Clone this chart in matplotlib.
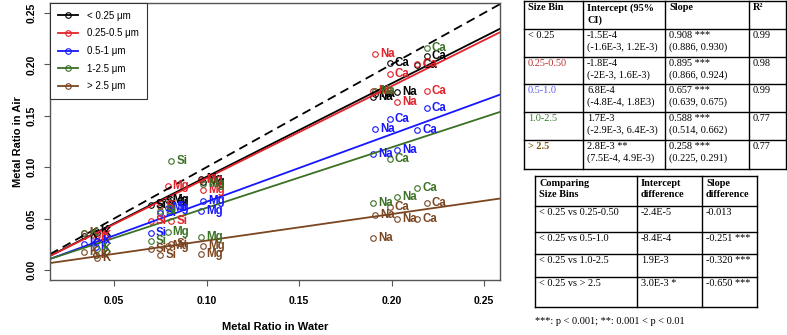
import matplotlib
matplotlib.use("Agg")
import matplotlib.pyplot as plt
from matplotlib.lines import Line2D
import numpy as np

plt.rcParams["font.family"] = ["Liberation Sans", "DejaVu Sans"]

# metal ratio in water (shared by all size bins), 3 samples per element
elements = ["K", "Si", "Mg", "Na", "Ca"]
water = {
    "K": [0.034, 0.040, 0.041],
    "Si": [0.070, 0.075, 0.081],
    "Mg": [0.079, 0.097, 0.098],
    "Na": [0.190, 0.191, 0.203],
    "Ca": [0.199, 0.214, 0.219],
}

# metal ratio in air per size bin
air_lt025 = {
    "K": [0.033, 0.038, 0.036],
    "Si": [0.063, 0.066, 0.065],
    "Mg": [0.068, 0.089, 0.086],
    "Na": [0.168, 0.171, 0.173],
    "Ca": [0.201, 0.199, 0.208],
}
air_025_05 = {
    "K": [0.036, 0.031, 0.033],
    "Si": [0.048, 0.062, 0.048],
    "Mg": [0.082, 0.088, 0.078],
    "Na": [0.174, 0.210, 0.163],
    "Ca": [0.191, 0.200, 0.174],
}
air_05_1 = {
    "K": [0.025, 0.022, 0.028],
    "Si": [0.036, 0.055, 0.061],
    "Mg": [0.060, 0.057, 0.067],
    "Na": [0.113, 0.137, 0.117],
    "Ca": [0.147, 0.136, 0.158],
}
air_1_25 = {
    "K": [0.036, 0.015, 0.020],
    "Si": [0.028, 0.057, 0.106],
    "Mg": [0.037, 0.032, 0.084],
    "Na": [0.065, 0.174, 0.071],
    "Ca": [0.108, 0.080, 0.216],
}
air_gt25 = {
    "K": [0.018, 0.0145, 0.012],
    "Si": [0.020, 0.015, 0.025],
    "Mg": [0.023, 0.016, 0.023],
    "Na": [0.031, 0.054, 0.050],
    "Ca": [0.061, 0.050, 0.065],
}

bin_labels = ["< 0.25 \u03bcm", "0.25-0.5 \u03bcm", "0.5-1 \u03bcm", "1-2.5 \u03bcm", "> 2.5 \u03bcm"]
bin_air = [air_lt025, air_025_05, air_05_1, air_1_25, air_gt25]
intercepts = [-1.5e-4, -1.8e-4, 6.8e-4, 1.7e-3, 2.8e-3]
slopes = [0.908, 0.895, 0.657, 0.588, 0.258]
colors = ["black", "#e3222a", "#1616ff", "#3b7125", "#7a4520"]

# regression table
t1_header = ["Size Bin", "Intercept (95%\nCI)", "Slope", "R\u00b2"]
t1_bins = ["< 0.25", "0.25-0.50", "0.5-1.0", "1.0-2.5", "> 2.5"]
t1_bin_colors = ["black", "#b83030", "#5a5aff", "#3a7a2a", "#7a5a10"]
t1_intercepts = ["-1.5E-4\n(-1.6E-3, 1.2E-3)", "-1.8E-4\n(-2E-3, 1.6E-3)",
                 "6.8E-4\n(-4.8E-4, 1.8E3)", "1.7E-3\n(-2.9E-3, 6.4E-3)",
                 "2.8E-3 **\n(7.5E-4, 4.9E-3)"]
t1_slopes = ["0.908 ***\n(0.886, 0.930)", "0.895 ***\n(0.866, 0.924)",
             "0.657 ***\n(0.639, 0.675)", "0.588 ***\n(0.514, 0.662)",
             "0.258 ***\n(0.225, 0.291)"]
t1_r2 = ["0.99", "0.98", "0.99", "0.77", "0.77"]

# comparison table
t2_header = ["Comparing\nSize Bins", "Intercept\ndifference", "Slope\ndifference"]
t2_pairs = ["< 0.25 vs 0.25-0.50", "< 0.25 vs 0.5-1.0", "< 0.25 vs 1.0-2.5", "< 0.25 vs > 2.5"]
t2_int_diff = ["-2.4E-5", "-8.4E-4", "1.9E-3", "3.0E-3 *"]
t2_slope_diff = ["-0.013", "-0.251 ***", "-0.320 ***", "-0.650 ***"]
footnote = "***: p < 0.001; **: 0.001 < p < 0.01"

fig = plt.figure(figsize=(7.87, 3.35), dpi=100)

# tables live on a pixel-coordinate overlay
tab = fig.add_axes([0, 0, 1, 1], zorder=-1)
tab.set_xlim(0, 787)
tab.set_ylim(335, 0)
tab.axis("off")

ax = fig.add_axes([50 / 787, 55 / 335, 450 / 787, 277 / 335])
xlim = (0.0154, 0.2586)
ax.set_xlim(*xlim)
ax.set_ylim(-0.0097, 0.2597)

for air, col in zip(bin_air, colors):
    for el in elements:
        ax.plot(water[el], air[el], "o", mfc="none", mec=col, ms=4, mew=0.8)
        for xv, yv in zip(water[el], air[el]):
            ax.annotate(el, (xv, yv), xytext=(5, 0), textcoords="offset pixels",
                        va="center", ha="left", color=col, fontsize=8.3,
                        fontweight="bold")

xs = np.array(xlim)
ax.plot(xs, xs, "--", color="black", lw=1.3, dashes=(5, 3))
for a, b, col in zip(intercepts, slopes, colors):
    ax.plot(xs, a + b * xs, color=col, lw=1.3)

ax.set_xticks([0.05, 0.10, 0.15, 0.20, 0.25])
ax.set_yticks([0.00, 0.05, 0.10, 0.15, 0.20, 0.25])
ax.set_xticklabels(["0.05", "0.10", "0.15", "0.20", "0.25"], fontweight="bold")
ax.set_yticklabels(["0.00", "0.05", "0.10", "0.15", "0.20", "0.25"],
                   fontweight="bold", rotation=90, va="center")
ax.tick_params(direction="out", length=4.3, width=0.8, color="#555555",
               labelsize=7.5)
ax.tick_params(axis="x", pad=7)
ax.tick_params(axis="y", pad=5)
for sp in ax.spines.values():
    sp.set_color("#555555")
    sp.set_linewidth(1)
ax.set_xlabel("Metal Ratio in Water", fontweight="bold", fontsize=8, labelpad=12)
ax.set_ylabel("Metal Ratio in Air", fontweight="bold", fontsize=8, labelpad=3)

handles = [Line2D([], [], color=c, marker="o", mfc="none", ms=4, mew=0.8, lw=1.3)
           for c in colors]
leg = ax.legend(handles, bin_labels, loc="upper left", borderaxespad=0,
                fontsize=7, fancybox=False, edgecolor="#333333", framealpha=1,
                handlelength=2.1, handletextpad=0.9, labelspacing=0.78,
                borderpad=0.8)
leg.get_frame().set_linewidth(0.8)

# table 1
serif = "Liberation Serif"
tfs = 7.4
x1 = [524, 583, 665, 749, 786]
y1 = [1, 29, 57, 84, 112, 140, 169]
for yy in y1:
    tab.plot([x1[0], x1[-1]], [yy, yy], color="black", lw=1)
for xx in x1:
    tab.plot([xx, xx], [y1[0], y1[-1]], color="black", lw=1)
for j, h in enumerate(t1_header):
    tab.text(x1[j] + 4, y1[0] + 2, h, va="top", ha="left", fontsize=tfs,
             family=serif, fontweight="bold", linespacing=1.35)
for i in range(5):
    top = y1[i + 1] + 2
    tab.text(x1[0] + 4, top, t1_bins[i], va="top", fontsize=tfs, family=serif,
             color=t1_bin_colors[i], fontweight="bold" if i == 4 else "normal")
    tab.text(x1[1] + 4, top, t1_intercepts[i], va="top", fontsize=tfs,
             family=serif, linespacing=1.35)
    tab.text(x1[2] + 4, top, t1_slopes[i], va="top", fontsize=tfs,
             family=serif, linespacing=1.35)
    tab.text(x1[3] + 4, top, t1_r2[i], va="top", fontsize=tfs, family=serif)

# table 2
x2 = [535, 637, 702, 757]
y2 = [176, 206, 232, 254, 277, 307]
for yy in y2:
    tab.plot([x2[0], x2[-1]], [yy, yy], color="black", lw=1)
for xx in x2:
    tab.plot([xx, xx], [y2[0], y2[-1]], color="black", lw=1)
for j, h in enumerate(t2_header):
    tab.text(x2[j] + 4, y2[0] + 3, h, va="top", ha="left", fontsize=tfs,
             family=serif, fontweight="bold", linespacing=1.35)
for i in range(4):
    top = y2[i + 1] + 2
    tab.text(x2[0] + 4, top, t2_pairs[i], va="top", fontsize=tfs, family=serif)
    tab.text(x2[1] + 4, top, t2_int_diff[i], va="top", fontsize=tfs, family=serif)
    tab.text(x2[2] + 4, top, t2_slope_diff[i], va="top", fontsize=tfs, family=serif)

tab.text(x2[0], 321, footnote, va="center", ha="left", fontsize=tfs, family=serif)

fig.savefig("out.png", dpi=100)
